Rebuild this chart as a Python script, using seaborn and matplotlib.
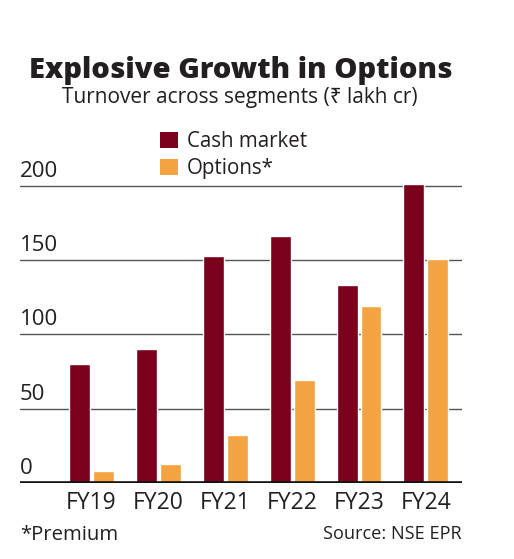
import numpy as np
import pandas as pd
import matplotlib
matplotlib.use('Agg')
import matplotlib.pyplot as plt
import seaborn as sns
from matplotlib.patches import Patch
from matplotlib.transforms import ScaledTranslation

# Data
years = ['FY19', 'FY20', 'FY21', 'FY22', 'FY23', 'FY24']
cash_market = [80, 90, 153, 166, 133, 201]
options = [8, 13, 32, 69, 119, 151]
segments = ['Cash market', 'Options*']
yticks = [0, 50, 100, 150, 200]

colors = {'Cash market': '#7a001c', 'Options*': '#f3a33f'}

df = pd.DataFrame({
    'year': years * 2,
    'segment': [segments[0]] * len(years) + [segments[1]] * len(years),
    'turnover': cash_market + options,
})

sns.set_theme(style='white')
plt.rcParams['font.family'] = ['Open Sans', 'Noto Sans', 'DejaVu Sans']
text_color = '#231f20'

fig = plt.figure(figsize=(5.14, 5.59), dpi=100)
ax = fig.add_axes([20 / 514, 1 - 483 / 559, 442 / 514, 304.6 / 559])

sns.barplot(data=df, x='year', y='turnover', hue='segment', order=years,
            hue_order=segments, palette=colors, width=0.716, gap=0.125,
            saturation=1, ax=ax, legend=False)

ax.set_xlim(-1.07, 5.54)
ax.set_ylim(0, 205)
for s in ax.spines.values():
    s.set_visible(False)
ax.set_yticks([])
ax.set_xlabel('')
ax.set_ylabel('')
ax.tick_params(axis='x', length=0, pad=6, labelsize=16.5, labelcolor=text_color)

# gridlines and tick labels sitting above them
for v in yticks:
    if v == 0:
        ax.axhline(v, color='#111111', lw=2.6, zorder=3)
    else:
        ax.axhline(v, color='#555555', lw=1.0, zorder=0)
    off = ScaledTranslation(0, 3 / 72, fig.dpi_scale_trans)
    ax.text(0, v, str(v), transform=ax.get_yaxis_transform() + off,
            ha='left', va='bottom', fontsize=16, color=text_color)

# legend
handles = [Patch(facecolor=colors[s], edgecolor='none') for s in segments]
fig.legend(handles, segments, loc='upper left',
           bbox_to_anchor=(152 / 514, 1 - 123 / 559), frameon=False,
           fontsize=14.8, handlelength=0.85, handleheight=0.85,
           handletextpad=0.45, labelspacing=0.28, borderaxespad=0,
           labelcolor=text_color)

# titles
fig.text(240.5 / 514, 1 - 78 / 559, 'Explosive Growth in Options',
         ha='center', va='baseline', fontsize=21, fontweight='heavy',
         color=text_color)
fig.text(240 / 514, 1 - 103 / 559, 'Turnover across segments (₹ lakh cr)',
         ha='center', va='baseline', fontsize=15, color=text_color)

# footnotes
fig.text(20 / 514, 1 - 540 / 559, '*Premium', ha='left', va='baseline',
         fontsize=14.6, color=text_color)
fig.text(462 / 514, 1 - 539 / 559, 'Source: NSE EPR', ha='right',
         va='baseline', fontsize=13.1, color=text_color)

fig.savefig('out.png', dpi=100, facecolor='white')
